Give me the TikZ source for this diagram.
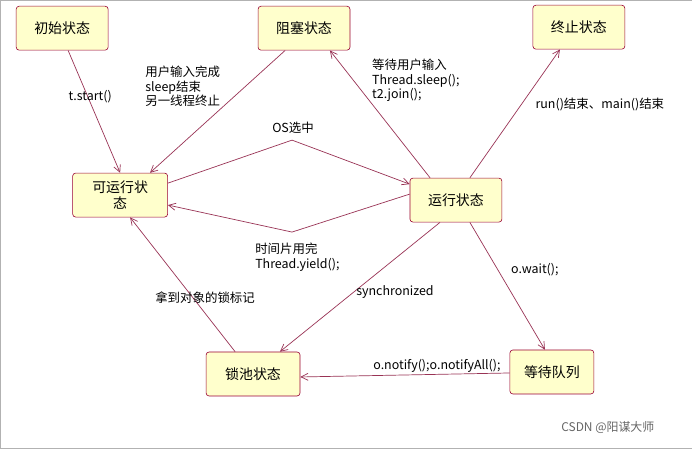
\documentclass[tikz,border=0pt]{standalone}
\usepackage{fontspec}
\setmainfont{Noto Sans CJK SC}
\usetikzlibrary{arrows.meta}
\definecolor{bx}{HTML}{FFFFCC}
\definecolor{br}{HTML}{990033}
\definecolor{ar}{HTML}{993355}
\tikzset{
 st/.style={draw=br,fill=bx,rounded corners=3bp,minimum width=92bp,minimum height=44bp,font=\fontsize{14}{16}\selectfont,align=center,line width=0.6bp,inner sep=1bp},
 ln/.style={draw=ar,line width=0.7bp,-{Straight Barb[length=7bp,width=7bp]}},
 lb/.style={font=\fontsize{12.5}{14.5}\selectfont,align=left,inner sep=0}
}
\begin{document}
\begin{tikzpicture}[x=1bp,y=-1bp]
\path[use as bounding box,draw=gray!60,fill=white] (0,0) rectangle (692,448);
\node[st] (init) at (62,28) {初始状态};
\node[st] (block) at (304,28) {阻塞状态};
\node[st] (term) at (579,27) {终止状态};
\node[st,minimum width=95bp] (ready) at (120,195) {可运行状\\态};
\node[st] (run) at (456,200) {运行状态};
\node[st,minimum width=94bp] (lock) at (253,374) {锁池状态};
\node[st,minimum width=84bp] (wait) at (552,372) {等待队列};
\coordinate (top) at (292,140);
\coordinate (bot) at (292,232);
\draw[ln] ([xshift=6]init.south) -- (ready.north);
\draw[ln] ([xshift=-19]block.south) -- ([xshift=30]ready.north);
\draw[ln] ([xshift=-26]run.north) -- ([xshift=26]block.south);
\draw[ln] ([xshift=14]run.north) -- ([xshift=-19]term.south);
\draw[ln] ([yshift=12]ready.east) -- (top) -- ([yshift=16]run.west);
\draw[ln] ([yshift=6]run.west) -- (bot) -- ([yshift=-10]ready.east);
\draw[ln] ([xshift=-16]run.south) -- ([xshift=27]lock.north);
\draw[ln] ([xshift=-18]lock.north) -- ([xshift=10]ready.south);
\draw[ln] ([xshift=14]run.south) -- ([xshift=-7]wait.north);
\draw[ln] ([yshift=-1]wait.west) -- ([yshift=-3]lock.east);
\node[lb] (l1) at (90,96) {t.start()};
\node[lb,anchor=north west] (l2) at (145,66) {用户输入完成\\sleep结束\\另一线程终止};
\node[lb,anchor=north west] (l3) at (372,59) {等待用户输入\\Thread.sleep();\\t2.join();};
\node[lb] (l4) at (600,104) {run()结束、main()结束};
\node[lb] (l5) at (293,128) {OS选中};
\node[lb,anchor=north west] (l6) at (255,243) {时间片用完\\Thread.yield();};
\node[lb] (l7) at (395,292) {synchronized};
\node[lb] (l8) at (205,298) {拿到对象的锁标记};
\node[lb] (l9) at (535,270) {o.wait();};
\node[lb] (l10) at (437,366) {o.notify();o.notifyAll();};
\node[lb,text=gray!80!black,font=\fontsize{12}{14}\selectfont] (wm) at (608,428) {CSDN @阳谋大师};
\end{tikzpicture}
\end{document}
